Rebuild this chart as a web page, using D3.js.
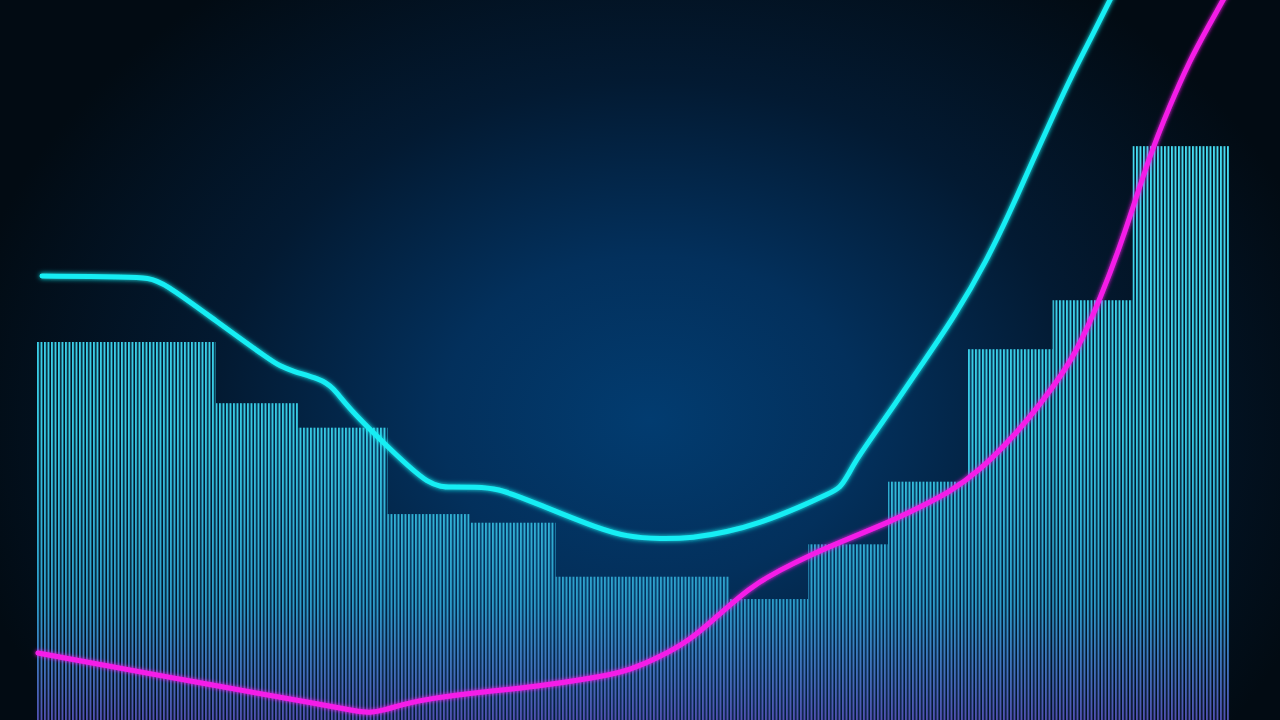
<!DOCTYPE html>
<html>
<head>
<meta charset="utf-8">
<script src="https://cdn.jsdelivr.net/npm/d3@7"></script>
<style>
html,body{margin:0;padding:0;background:#020c15;overflow:hidden;}
svg{display:block;}
</style>
</head>
<body>
<svg id="chart" width="1280" height="720"></svg>
<script>
// ---- data (x in % of period span, y in % of value range) ----
const blockStarts = [0, 15.0, 21.9, 29.4, 36.3, 43.5, 58.1, 64.7, 71.4, 78.1, 85.2, 91.9];
const blockEnds   = [15.0, 21.9, 29.4, 36.3, 43.5, 58.1, 64.7, 71.4, 78.1, 85.2, 91.9, 100];
const blockValues = [52.5, 44.0, 40.6, 28.6, 27.4, 19.9, 16.8, 24.4, 33.1, 51.5, 58.3, 79.7];

const cyanX = [0.42, 7.80, 9.31, 10.57, 15.02, 19.55, 20.39, 21.39, 23.74, 24.75, 26.26, 29.61, 32.97, 34.82, 36.74, 38.59, 41.36, 43.88, 46.81, 49.50, 52.27, 55.03, 57.89, 60.65, 64.01, 66.53, 67.37, 68.04, 68.62, 69.88, 71.98, 74.08, 77.01, 79.70, 81.63, 83.56, 85.23, 86.91, 88.51, 90.02, 90.52];
const cyanY = [61.67, 61.53, 61.39, 60.83, 55.42, 50.00, 49.17, 48.47, 47.36, 46.39, 43.06, 37.64, 32.36, 32.36, 32.36, 32.22, 30.42, 28.75, 26.81, 25.42, 25.14, 25.28, 26.11, 27.36, 29.58, 31.53, 32.22, 34.03, 35.83, 38.89, 43.89, 49.03, 56.11, 63.89, 70.56, 77.78, 83.89, 89.86, 95.00, 100.0, 101.67];

const magX = [0.08, 13.67, 24.58, 26.68, 27.94, 29.19, 30.45, 33.22, 37.16, 41.61, 47.23, 49.75, 52.27, 54.78, 56.71, 59.82, 62.33, 64.85, 68.20, 71.31, 74.08, 76.59, 79.11, 81.38, 83.31, 85.23, 87.08, 89.18, 91.28, 93.20, 95.05, 96.73, 98.24, 99.50, 100.08];
const magY = [9.31, 5.14, 1.94, 1.25, 0.97, 1.39, 2.08, 3.06, 3.89, 4.58, 5.97, 6.94, 8.75, 11.11, 13.89, 18.47, 20.83, 22.92, 25.28, 27.36, 29.58, 31.67, 34.72, 38.47, 42.08, 46.25, 50.69, 58.33, 67.64, 77.78, 85.42, 91.67, 96.25, 100.0, 101.67];

// ---- layout ----
const W = 1280, H = 720;
const svg = d3.select("#chart");
const x = d3.scaleLinear().domain([0, 100]).range([37, 1229]);
const y = d3.scaleLinear().domain([0, 100]).range([H, 0]);

const defs = svg.append("defs");

// background radial gradient
const bg = defs.append("radialGradient").attr("id", "bg")
  .attr("gradientUnits", "userSpaceOnUse")
  .attr("cx", 650).attr("cy", 420).attr("r", 700)
  .attr("gradientTransform", "translate(650,420) scale(1,0.78) translate(-650,-420)");
bg.append("stop").attr("offset", "0%").attr("stop-color", "#023c70");
bg.append("stop").attr("offset", "30%").attr("stop-color", "#03305c");
bg.append("stop").attr("offset", "62%").attr("stop-color", "#031a32");
bg.append("stop").attr("offset", "100%").attr("stop-color", "#020b13");

// bar vertical gradient
const bg2 = defs.append("linearGradient").attr("id", "barGrad")
  .attr("gradientUnits", "userSpaceOnUse")
  .attr("x1", 0).attr("y1", 140).attr("x2", 0).attr("y2", H);
bg2.append("stop").attr("offset", "0%").attr("stop-color", "#46dcf2");
bg2.append("stop").attr("offset", "50%").attr("stop-color", "#36c8e2");
bg2.append("stop").attr("offset", "80%").attr("stop-color", "#2c9ac8");
bg2.append("stop").attr("offset", "100%").attr("stop-color", "#5050b0");

// stripe pattern for mask
const pat = defs.append("pattern").attr("id", "stripes")
  .attr("patternUnits", "userSpaceOnUse")
  .attr("x", 37).attr("y", 0).attr("width", 3.5).attr("height", 10);
pat.append("rect").attr("x", 0).attr("y", 0).attr("width", 2).attr("height", 10).attr("fill", "#fff");
const mask = defs.append("mask").attr("id", "stripeMask")
  .attr("maskUnits", "userSpaceOnUse").attr("x", 0).attr("y", 0).attr("width", W).attr("height", H);
mask.append("rect").attr("width", W).attr("height", H).attr("fill", "url(#stripes)");

// glow filter
function glow(id, dev) {
  const f = defs.append("filter").attr("id", id)
    .attr("x", "-20%").attr("y", "-20%").attr("width", "140%").attr("height", "140%");
  f.append("feGaussianBlur").attr("in", "SourceGraphic").attr("stdDeviation", dev).attr("result", "b");
  const m = f.append("feMerge");
  m.append("feMergeNode").attr("in", "b");
  m.append("feMergeNode").attr("in", "SourceGraphic");
}
glow("glowC", 2.5);
glow("glowM", 2);

svg.append("rect").attr("width", W).attr("height", H).attr("fill", "url(#bg)");

// bars
const blocks = blockValues.map((v, i) => ({ s: blockStarts[i], e: blockEnds[i], v }));
svg.append("g").attr("mask", "url(#stripeMask)")
  .selectAll("rect").data(blocks).join("rect")
  .attr("x", d => x(d.s))
  .attr("width", d => x(d.e) - x(d.s))
  .attr("y", d => y(d.v))
  .attr("height", d => y(0) - y(d.v))
  .attr("fill", "url(#barGrad)");

// lines
const line = d3.line().x(d => x(d[0])).y(d => y(d[1])).curve(d3.curveBasis);
const cyan = cyanX.map((v, i) => [v, cyanY[i]]);
const mag = magX.map((v, i) => [v, magY[i]]);

svg.append("path").datum(mag)
  .attr("d", line).attr("fill", "none")
  .attr("stroke", "#f51fe8").attr("stroke-width", 5)
  .attr("stroke-linecap", "round").attr("stroke-linejoin", "round")
  .attr("filter", "url(#glowM)");

svg.append("path").datum(cyan)
  .attr("d", line).attr("fill", "none")
  .attr("stroke", "#18eef4").attr("stroke-width", 5)
  .attr("stroke-linecap", "round").attr("stroke-linejoin", "round")
  .attr("filter", "url(#glowC)");
</script>
</body>
</html>
